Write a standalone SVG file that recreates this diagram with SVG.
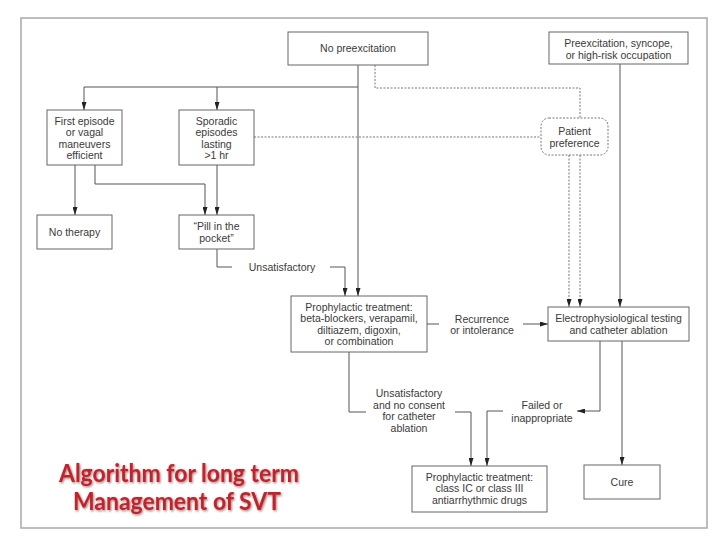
<svg xmlns="http://www.w3.org/2000/svg" width="728" height="546" viewBox="0 0 728 546">
<defs>
<marker id="ah" viewBox="0 0 8 5" refX="8" refY="2.5" markerWidth="8" markerHeight="5" markerUnits="userSpaceOnUse" orient="auto">
<path d="M0,0 L8,2.5 L0,5 z" fill="#222"/>
</marker>
<filter id="sh" x="-5%" y="-20%" width="110%" height="150%">
<feDropShadow dx="1" dy="1.2" stdDeviation="0.8" flood-color="#5a0c10" flood-opacity="0.55"/>
</filter>
<style>
.box{fill:#fff;stroke:#666;stroke-width:1}
.dbox{fill:#fff;stroke:#777;stroke-width:1;stroke-dasharray:2 1.5}
.t{font-family:"Liberation Sans",Arial,sans-serif;font-size:10.5px;fill:#3a3a3a;text-anchor:middle}
.c{fill:none;stroke:#555;stroke-width:1}
.d{fill:none;stroke:#777;stroke-width:1;stroke-dasharray:2 1.5}
.title{font-family:Lato,"Liberation Sans",Arial,sans-serif;font-size:24px;font-weight:bold;fill:#c3242c;text-anchor:middle}
</style>
</defs>
<rect width="728" height="546" fill="#fff"/>
<rect x="21" y="18" width="686" height="510" fill="#fff" stroke="#a8a8a8" stroke-width="1.5"/>

<g id="connectors">
<path class="c" d="M358 65 V296" marker-end="url(#ah)"/>
<path class="c" d="M358 87 H84 V110" marker-end="url(#ah)"/>
<path class="c" d="M217 87 V110" marker-end="url(#ah)"/>
<path class="d" d="M375 65 V88 H580 V118"/>
<path class="d" d="M254 137 H541"/>
<path class="d" d="M569 155 V307" marker-end="url(#ah)"/>
<path class="d" d="M580 155 V307" marker-end="url(#ah)"/>
<path class="c" d="M620 64 V307" marker-end="url(#ah)"/>
<path class="c" d="M75 165 V215" marker-end="url(#ah)"/>
<path class="c" d="M95 165 V184 H205 V215" marker-end="url(#ah)"/>
<path class="c" d="M217 165 V215" marker-end="url(#ah)"/>
<path class="c" d="M217 249 V267 H232"/>
<path class="c" d="M330 267 H345 V296" marker-end="url(#ah)"/>
<text class="t" x="282" y="270.5">Unsatisfactory</text>
<path class="c" d="M427 324 H439"/>
<path class="c" d="M523 324 H548" marker-end="url(#ah)"/>
<text class="t" x="482" y="322.5">Recurrence</text>
<text class="t" x="482" y="333.5">or intolerance</text>
<path class="c" d="M349 352 V412 H366"/>
<path class="c" d="M455 412 H471 V466" marker-end="url(#ah)"/>
<text class="t" x="409" y="397">Unsatisfactory</text>
<text class="t" x="409" y="408.5">and no consent</text>
<text class="t" x="409" y="420">for catheter</text>
<text class="t" x="409" y="431.5">ablation</text>
<path class="c" d="M600 341 V411 H577" marker-end="url(#ah)"/>
<path class="c" d="M503 411 H487 V466" marker-end="url(#ah)"/>
<text class="t" x="542" y="408.5">Failed or</text>
<text class="t" x="542" y="421.5">inappropriate</text>
<path class="c" d="M622 341 V465" marker-end="url(#ah)"/>
</g>

<g id="n_nopre">
<rect class="box" x="288" y="32" width="140" height="33"/>
<text class="t" x="358" y="52">No preexcitation</text>
</g>
<g id="n_pre">
<rect class="box" x="549" y="32" width="139" height="32"/>
<text class="t" x="618.5" y="47">Preexcitation, syncope,</text>
<text class="t" x="618.5" y="59">or high-risk occupation</text>
</g>
<g id="n_first">
<rect class="box" x="47" y="110" width="75" height="55"/>
<text class="t" x="84.5" y="124.5">First episode</text>
<text class="t" x="84.5" y="136">or vagal</text>
<text class="t" x="84.5" y="147.5">maneuvers</text>
<text class="t" x="84.5" y="159">efficient</text>
</g>
<g id="n_spor">
<rect class="box" x="179" y="110" width="75" height="55"/>
<text class="t" x="216.5" y="124.5">Sporadic</text>
<text class="t" x="216.5" y="136">episodes</text>
<text class="t" x="216.5" y="147.5">lasting</text>
<text class="t" x="216.5" y="159">&gt;1 hr</text>
</g>
<g id="n_pp">
<rect class="dbox" x="541" y="118" width="67" height="37" rx="8" ry="8"/>
<text class="t" x="574.5" y="134.5">Patient</text>
<text class="t" x="574.5" y="146.5">preference</text>
</g>
<g id="n_nother">
<rect class="box" x="37" y="215" width="75" height="34"/>
<text class="t" x="74.5" y="235.5">No therapy</text>
</g>
<g id="n_pill">
<rect class="box" x="179" y="215" width="75" height="34"/>
<text class="t" x="216.5" y="229.5">“Pill in the</text>
<text class="t" x="216.5" y="241.5">pocket”</text>
</g>
<g id="n_proph">
<rect class="box" x="291" y="296" width="136" height="56"/>
<text class="t" x="359" y="310.5">Prophylactic treatment:</text>
<text class="t" x="359" y="322">beta-blockers, verapamil,</text>
<text class="t" x="359" y="333.5">diltiazem, digoxin,</text>
<text class="t" x="359" y="345">or combination</text>
</g>
<g id="n_ep">
<rect class="box" x="548" y="307" width="141" height="34"/>
<text class="t" x="618.5" y="322">Electrophysiological testing</text>
<text class="t" x="618.5" y="333.5">and catheter ablation</text>
</g>
<g id="n_class">
<rect class="box" x="412" y="466" width="135" height="46"/>
<text class="t" x="479.5" y="480.5">Prophylactic treatment:</text>
<text class="t" x="479.5" y="492">class IC or class III</text>
<text class="t" x="479.5" y="504">antiarrhythmic drugs</text>
</g>
<g id="n_cure">
<rect class="box" x="584" y="465" width="76" height="34"/>
<text class="t" x="622" y="485.5">Cure</text>
</g>

<g id="title" filter="url(#sh)">
<text class="title" x="179" y="482" textLength="240" lengthAdjust="spacingAndGlyphs">Algorithm for long term</text>
<text class="title" x="177" y="510" textLength="208" lengthAdjust="spacingAndGlyphs">Management of SVT</text>
</g>
</svg>
